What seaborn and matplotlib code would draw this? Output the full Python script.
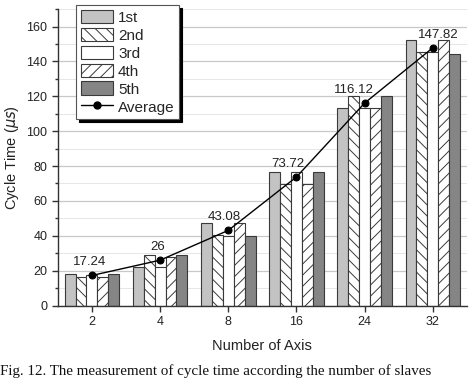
import numpy as np
import pandas as pd
from matplotlib import pyplot as plt
from matplotlib.patches import Patch
from matplotlib.lines import Line2D
import seaborn as sns

# values
axis_counts = ['2', '4', '8', '16', '24', '32']
runs = ['1st', '2nd', '3rd', '4th', '5th']
run_1st = [18.2, 22.0, 47.5, 76.3, 113.3, 152.2]
run_2nd = [16.3, 29.0, 40.3, 69.7, 120.3, 145.2]
run_3rd = [17.5, 22.0, 40.0, 76.3, 113.3, 145.2]
run_4th = [16.3, 28.0, 47.5, 69.7, 113.3, 152.2]
run_5th = [17.9, 29.0, 40.1, 76.6, 120.4, 144.3]
average = [17.24, 26, 43.08, 73.72, 116.12, 147.82]
average_labels = ['17.24', '26', '43.08', '73.72', '116.12', '147.82']

sns.set_theme(style='ticks')
plt.rcParams['font.family'] = ['Liberation Sans', 'DejaVu Sans']
plt.rcParams['hatch.linewidth'] = 0.7

df = pd.DataFrame({
    'Number of Axis': axis_counts * len(runs),
    'Run': np.repeat(runs, len(axis_counts)),
    'Cycle Time': run_1st + run_2nd + run_3rd + run_4th + run_5th,
})
avg_df = pd.DataFrame({'Number of Axis': axis_counts, 'Average': average})

fills = ['#c3c3c3', 'white', 'white', 'white', '#858585']
hatches = ['', '\\\\\\', '', '///', '']
edge = '#3a3a3a'

fig = plt.figure(figsize=(4.74, 3.8), dpi=100)
ax = fig.add_axes([0.122, 0.196, 0.863, 0.78])

sns.barplot(data=df, x='Number of Axis', y='Cycle Time', hue='Run',
            order=axis_counts, hue_order=runs, width=0.8, dodge=True,
            palette=fills, edgecolor=edge, linewidth=0.8, saturation=1,
            legend=False, ax=ax, zorder=2)
for container, fc, h in zip(ax.containers, fills, hatches):
    for bar in container:
        bar.set_facecolor(fc)
        bar.set_hatch(h)
        bar.set_edgecolor(edge)

sns.pointplot(data=avg_df, x='Number of Axis', y='Average', order=axis_counts,
              color='black', markers='o', markersize=5, linewidth=1,
              ax=ax, zorder=4)

# value labels above the average points
dx = [-2, -2, -3, -6, -8, 4]
for i, (v, lab) in enumerate(zip(average, average_labels)):
    ax.annotate(lab, (i, v), xytext=(dx[i], 9.5), textcoords='offset points',
                ha='center', va='center', fontsize=9.5, color='#222222', zorder=5)

ax.set_xlim(-0.5, 5.5)
ax.set_ylim(0, 170)
ax.set_yticks(np.arange(0, 161, 20))
ax.set_yticks(np.arange(10, 171, 20), minor=True)
ax.grid(axis='y', which='major', color='#c8c8c8', linewidth=0.9, zorder=0)
ax.grid(axis='y', which='minor', color='#e6e6e6', linewidth=0.7, zorder=0)
ax.set_axisbelow(True)
ax.tick_params(axis='both', which='major', direction='out', length=4, width=1,
               color='#333333', labelsize=9, labelcolor='#222222')
ax.tick_params(axis='y', which='minor', direction='out', length=2.5, width=1,
               color='#333333')
for side in ['top', 'right']:
    ax.spines[side].set_visible(False)
for side in ['left', 'bottom']:
    ax.spines[side].set_color('#333333')
    ax.spines[side].set_linewidth(1)

ax.set_xlabel('Number of Axis', fontsize=10.5, color='#222222', labelpad=8)
ax.set_ylabel(r'Cycle Time ($\mu s$)', fontsize=10.5, color='#222222', labelpad=4)

handles = [Patch(facecolor=fc, edgecolor=edge, hatch=h, linewidth=0.8)
           for fc, h in zip(fills, hatches)]
handles.append(Line2D([0], [0], color='black', marker='o', markersize=5, linewidth=1))
leg = ax.legend(handles, runs + ['Average'], loc='upper left',
                bbox_to_anchor=(76 / 474, 1 - 5 / 380), bbox_transform=fig.transFigure,
                borderaxespad=0, fancybox=False, framealpha=1, edgecolor='#555555',
                shadow={'color': 'black', 'alpha': 1}, fontsize=11,
                handlelength=2.1, handleheight=1.0, handletextpad=0.35,
                labelspacing=0.19, borderpad=0.3)
leg.get_frame().set_linewidth(0.8)
leg.set_zorder(10)

fig.text(0.0, 0.004, 'Fig. 12. The measurement of cycle time according the number of slaves',
         family=['Liberation Serif', 'DejaVu Serif'], fontsize=10.8, color='#111111',
         ha='left', va='bottom')

fig.savefig('out.png', dpi=100)
